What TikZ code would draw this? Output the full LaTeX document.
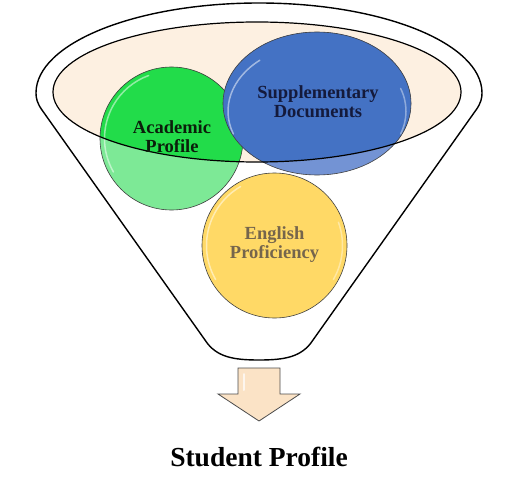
\documentclass[tikz,border=0pt]{standalone}
\usepackage{fontspec}
\setmainfont{Liberation Serif}
\definecolor{beige}{HTML}{FDF0E1}
\definecolor{greenA}{HTML}{22DC4A}
\definecolor{greenB}{HTML}{7DE996}
\definecolor{blueA}{HTML}{4472C4}
\definecolor{blueB}{HTML}{7393D4}
\definecolor{yellowA}{HTML}{FFD966}
\definecolor{arrowfill}{HTML}{FBE3C6}
\definecolor{txtgreen}{HTML}{0B1F0B}
\definecolor{txtblue}{HTML}{141A3C}
\definecolor{txtyellow}{HTML}{75654C}
\begin{document}
\begin{tikzpicture}[x=1pt,y=-1pt,
  lbl/.style={font=\fontsize{18.5}{19}\selectfont\bfseries, align=center, inner sep=0pt},
  funnelline/.style={line width=1.4pt, draw=black},
  bubble/.style={draw=black!75, line width=0.6pt},
  gloss/.style={white, opacity=0.5, line width=1.5pt, line cap=round}]
\useasboundingbox (0,0) rectangle (526,481);
% funnel body
\path[funnelline, fill=white]
  (42,110) .. controls (37,103) and (36,98) .. (36,93)
  arc[start angle=180, end angle=360, x radius=223, y radius=90]
  .. controls (482,98) and (481,103) .. (476,110)
  -- (313,340) .. controls (302,357) and (285,360) .. (259,360)
  .. controls (233,360) and (216,357) .. (205,340) -- cycle;
% inner ellipse fill
\fill[beige] (257,92) ellipse [x radius=204, y radius=70];
% green bubble: light outside ellipse, saturated inside
\fill[greenB] (171.5,138.5) circle [radius=71.5];
\begin{scope}
  \clip (257,92) ellipse [x radius=204, y radius=70];
  \fill[greenA] (171.5,138.5) circle [radius=71.5];
\end{scope}
\draw[bubble] (171.5,138.5) circle [radius=71.5];
\draw[gloss] (171.5,138.5) ++(150:67) arc[start angle=150, end angle=250, radius=67];
% blue bubble over green
\fill[blueB] (317,103.5) ellipse [x radius=94, y radius=71.5];
\begin{scope}
  \clip (257,92) ellipse [x radius=204, y radius=70];
  \fill[blueA] (317,103.5) ellipse [x radius=94, y radius=71.5];
\end{scope}
\draw[bubble] (317,103.5) ellipse [x radius=94, y radius=71.5];
\draw[gloss] (317,103.5) ++(160:89) arc[start angle=160, end angle=230, x radius=89, y radius=66.5];
\draw[gloss, opacity=0.4] (317,103.5) ++(20:89) arc[start angle=20, end angle=-20, x radius=89, y radius=66.5];
% yellow bubble
\fill[yellowA] (274.5,245.5) circle [radius=72.5];
\draw[bubble] (274.5,245.5) circle [radius=72.5];
\draw[gloss] (274.5,245.5) ++(150:68) arc[start angle=150, end angle=240, radius=68];
\draw[gloss, opacity=0.4] (274.5,245.5) ++(30:68) arc[start angle=30, end angle=-20, radius=68];
% inner ellipse outline on top
\draw[funnelline, line width=1.2pt] (257,92) ellipse [x radius=204, y radius=70];
% labels
\node[lbl, text=txtgreen] (acad) at (172,137) {Academic\\Profile};
\node[lbl, text=txtblue] (supp) at (318,102) {Supplementary\\Documents};
\node[lbl, text=txtyellow] (engl) at (274.5,245) {English\\Proficiency};
% arrow
\path[draw=black!70, line width=0.8pt, fill=arrowfill]
  (238,368) -- (280,368) -- (280,394) -- (300,394) -- (259,421)
  -- (218,394) -- (238,394) -- cycle;
\draw[gloss, opacity=0.7, line width=2pt] (244,374) -- (244,390);
\node[font=\fontsize{27.5}{30}\selectfont\bfseries, inner sep=0pt] (res) at (259,457) {Student Profile};
\end{tikzpicture}
\end{document}
